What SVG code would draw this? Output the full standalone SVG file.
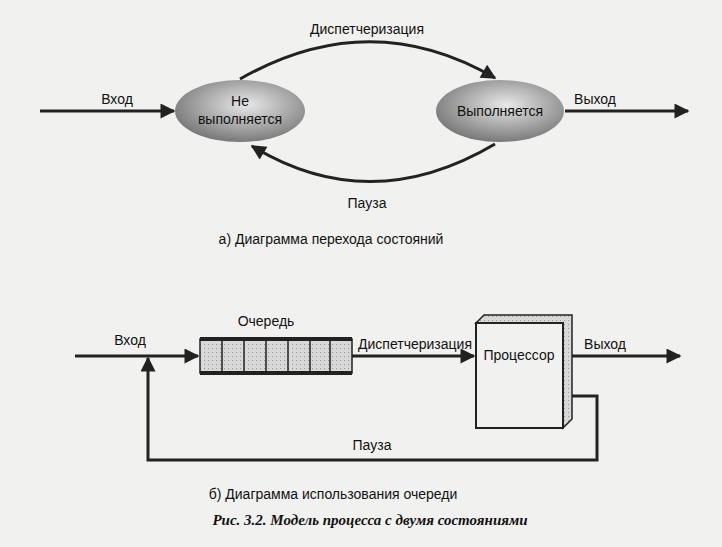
<svg xmlns="http://www.w3.org/2000/svg" width="722" height="547" viewBox="0 0 722 547">
<style>
text{font-family:"Liberation Sans",Arial,sans-serif;font-size:14px;fill:#111}
.l{stroke:#222;stroke-width:3;fill:none}
</style>
<defs>
<marker id="a" viewBox="0 0 10 10" refX="9" refY="5" markerWidth="6" markerHeight="5" orient="auto" markerUnits="strokeWidth"><path d="M0,0L10,5L0,10z" fill="#222"/></marker>
<radialGradient id="g" cx="0.55" cy="0.4" r="0.6"><stop offset="0" stop-color="#e8e8e8"/><stop offset="1" stop-color="#7a7a7a"/></radialGradient>
<pattern id="p" width="4" height="4" patternUnits="userSpaceOnUse"><rect width="4" height="4" fill="#d8d8d8"/><rect width="1" height="1" fill="#999"/></pattern>
</defs>
<rect width="722" height="547" fill="#f1f1ef"/>
<g id="connectors">
<line class="l" x1="40" y1="111" x2="174" y2="111" marker-end="url(#a)"/>
<path class="l" d="M240,79 Q370,5 495,78" marker-end="url(#a)"/>
<path class="l" d="M495,144 Q370,218 252,146" marker-end="url(#a)"/>
<line class="l" x1="565" y1="111" x2="688" y2="111" marker-end="url(#a)"/>
<line class="l" x1="75" y1="356" x2="198" y2="356" marker-end="url(#a)"/>
<line class="l" x1="352" y1="356" x2="474" y2="356" marker-end="url(#a)"/>
<line class="l" x1="572" y1="356" x2="680" y2="356" marker-end="url(#a)"/>
<path class="l" d="M570,396H597V460H148V358" marker-end="url(#a)"/>
</g>
<g id="n1"><ellipse cx="240" cy="111" rx="65" ry="31" fill="url(#g)"/><text x="240" y="106" text-anchor="middle">Не</text><text x="240" y="124" text-anchor="middle">выполняется</text></g>
<g id="n2"><ellipse cx="500" cy="111" rx="64" ry="31" fill="url(#g)"/><text x="500" y="116" text-anchor="middle">Выполняется</text></g>
<g id="queue"><rect x="200" y="339" width="152" height="34" fill="url(#p)" stroke="#222" stroke-width="1.5"/>
<line x1="200" y1="339" x2="352" y2="339" stroke="#222" stroke-width="4"/><line x1="200" y1="373" x2="352" y2="373" stroke="#222" stroke-width="4"/>
<path d="M222,339V373M244,339V373M266,339V373M288,339V373M310,339V373M330,339V373" stroke="#222" stroke-width="1.5"/></g>
<g id="proc"><path d="M476,323L484,315H572V419L563,428V323Z" fill="url(#p)" stroke="#222" stroke-width="1.5"/><rect x="476" y="323" width="87" height="105" fill="#f1f1ef" stroke="#222" stroke-width="2"/><text x="519" y="360" text-anchor="middle">Процессор</text></g>
<g id="labels">
<text x="367" y="34" text-anchor="middle">Диспетчеризация</text>
<text x="117" y="104" text-anchor="middle">Вход</text>
<text x="595" y="104" text-anchor="middle">Выход</text>
<text x="367" y="208" text-anchor="middle">Пауза</text>
<text x="331" y="244" text-anchor="middle">а) Диаграмма перехода состояний</text>
<text x="266" y="326" text-anchor="middle">Очередь</text>
<text x="130" y="345" text-anchor="middle">Вход</text>
<text x="415" y="349" text-anchor="middle">Диспетчеризация</text>
<text x="605" y="349" text-anchor="middle">Выход</text>
<text x="372" y="450" text-anchor="middle">Пауза</text>
<text x="333" y="499" text-anchor="middle">б) Диаграмма использования очереди</text>
<text x="370" y="525" text-anchor="middle" style="font-family:'Liberation Serif',serif;font-style:italic;font-weight:bold;font-size:15px">Рис. 3.2. Модель процесса с двумя состояниями</text>
</g>
</svg>
